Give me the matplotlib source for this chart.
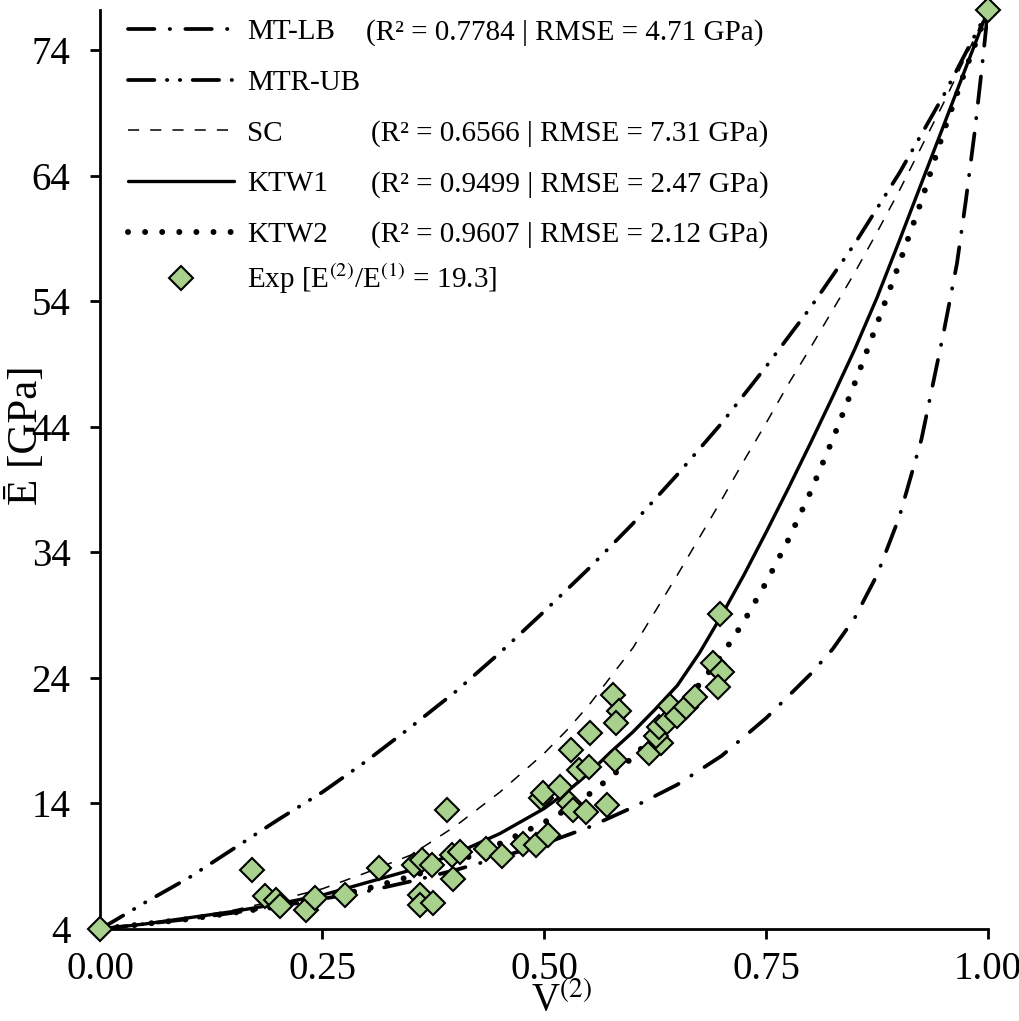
import matplotlib
matplotlib.use('Agg')
import matplotlib.pyplot as plt
import matplotlib.transforms as mtransforms
from matplotlib.ticker import FormatStrFormatter

# 数据：曲线读数 (V(2), E)
ub_v = [0.0, 0.05, 0.10, 0.15, 0.20, 0.25, 0.30, 0.35, 0.40, 0.45, 0.50,
        0.55, 0.60, 0.65, 0.70, 0.75, 0.80, 0.85, 0.90, 0.95, 1.00]
mtr_ub = [4.0, 6.1, 8.1, 10.4, 12.7, 14.9, 17.4, 20.1, 22.9, 26.0, 29.3,
          32.7, 36.3, 40.2, 44.3, 48.8, 53.5, 58.6, 64.2, 70.4, 77.2]

v_fine = [0.0, 0.05, 0.10, 0.15, 0.20, 0.25, 0.30, 0.35, 0.40, 0.45, 0.50,
          0.525, 0.55, 0.575, 0.60, 0.625, 0.65, 0.675, 0.70, 0.725, 0.75,
          0.775, 0.80, 0.825, 0.85, 0.875, 0.90, 0.925, 0.95, 0.975, 1.00]
sc = [4.0, 4.4, 4.9, 5.5, 6.3, 7.2, 8.5, 9.9, 12.2, 14.9, 18.0,
      19.8, 21.8, 24.1, 26.4, 29.3, 32.2, 35.2, 38.2, 41.3, 44.3,
      47.4, 50.3, 53.3, 56.3, 59.5, 62.8, 66.3, 69.8, 73.5, 77.2]
ktw1 = [4.0, 4.4, 4.9, 5.4, 6.0, 6.7, 7.7, 8.7, 10.0, 11.6, 13.6,
        14.9, 16.4, 18.1, 19.7, 21.5, 23.4, 26.0, 29.0, 32.2, 35.6,
        39.1, 42.7, 46.4, 50.2, 54.3, 58.8, 63.4, 68.0, 72.6, 77.2]
ktw2 = [4.0, 4.4, 4.8, 5.3, 5.8, 6.4, 7.2, 8.2, 9.3, 10.8, 12.5,
        13.5, 14.7, 16.1, 17.7, 19.5, 21.4, 23.5, 25.8, 28.5, 31.6,
        35.0, 38.8, 43.0, 47.5, 52.2, 57.0, 62.0, 67.5, 72.5, 77.2]

lb_v = [0.0, 0.10, 0.20, 0.30, 0.35, 0.40, 0.45, 0.50, 0.55, 0.60, 0.65,
        0.70, 0.75, 0.80, 0.825, 0.85, 0.875, 0.90, 0.925, 0.95, 0.965,
        0.975, 0.985, 0.993, 1.00]
mt_lb = [4.0, 4.8, 5.8, 7.0, 7.8, 8.7, 9.7, 10.8, 12.1, 13.7, 15.5,
         17.8, 20.8, 24.3, 26.3, 28.8, 32.2, 36.8, 43.0, 51.5, 57.0,
         62.0, 67.5, 72.5, 77.2]

# 实验点
exp_v = [0.0, 0.171, 0.185, 0.198, 0.202, 0.232, 0.242, 0.275, 0.314, 0.353,
         0.362, 0.373, 0.360, 0.360, 0.375, 0.390, 0.397, 0.396, 0.405, 0.434,
         0.452, 0.476, 0.491, 0.504, 0.496, 0.499, 0.518, 0.528, 0.532, 0.547,
         0.571, 0.530, 0.539, 0.550, 0.551, 0.580, 0.578, 0.584, 0.581, 0.618,
         0.632, 0.626, 0.629, 0.638, 0.642, 0.650, 0.660, 0.670, 0.690, 0.700,
         0.696, 0.698, 1.0]
exp_e = [4.0, 8.7, 6.6, 6.3, 5.8, 5.5, 6.44, 6.7, 8.83, 9.1,
         9.5, 9.1, 6.7, 5.9, 6.1, 13.5, 8.0, 9.9, 10.15, 10.35,
         9.8, 10.8, 10.7, 11.5, 14.4, 14.8, 15.3, 14.0, 13.5, 13.3,
         13.9, 18.25, 16.65, 16.9, 19.6, 17.45, 22.6, 21.4, 20.4, 18.0,
         18.8, 19.4, 20.1, 20.5, 21.8, 21.0, 21.7, 22.5, 25.2, 24.5,
         23.3, 29.1, 77.2]

names = ['MT-LB', 'MTR-UB', 'SC', 'KTW1', 'KTW2']
stats = ['(R² = 0.7784 | RMSE = 4.71 GPa)', '',
         '(R² = 0.6566 | RMSE = 7.31 GPa)',
         '(R² = 0.9499 | RMSE = 2.47 GPa)',
         '(R² = 0.9607 | RMSE = 2.12 GPa)']
stat_x = [366, 0, 371, 371, 371]
exp_name = 'Exp [E$^{(2)}$/E$^{(1)}$ = 19.3]'

y_ticks = [4, 14, 24, 34, 44, 54, 64, 74]
x_ticks = [0.0, 0.25, 0.50, 0.75, 1.00]

plt.rcParams['font.family'] = ['Liberation Serif', 'DejaVu Serif']
plt.rcParams['mathtext.fontset'] = 'stix'
plt.rcParams['lines.scale_dashes'] = False

W, H = 1020, 1021
fig = plt.figure(figsize=(W / 100, H / 100), dpi=100)
ax = fig.add_axes([100.5 / W, 1 - 929 / H, 887.5 / W, 919 / H])

l_lb, = ax.plot(lb_v, mt_lb, color='black', lw=2.7, dashes=(19, 11, 0.3, 11),
                dash_capstyle='round', zorder=3)
l_ub, = ax.plot(ub_v, mtr_ub, color='black', lw=2.7,
                dashes=(19, 9, 0.3, 9, 0.3, 9), dash_capstyle='round', zorder=3)
l_sc, = ax.plot(v_fine, sc, color='black', lw=1.1, dashes=(8, 8), zorder=3)
l_k1, = ax.plot(v_fine, ktw1, color='black', lw=2.4, solid_capstyle='round', zorder=3)
l_k2, = ax.plot(v_fine, ktw2, color='black', lw=4.3, dashes=(0.01, 12.3),
                dash_capstyle='round', zorder=3)
sc_exp, = ax.plot(exp_v, exp_e, linestyle='none', marker='D', ms=12,
                  mfc='#a9d18e', mec='black', mew=1.5, zorder=5, clip_on=False)

ax.set_xlim(0, 1)
ax.set_ylim(4, 77.2)
ax.set_xticks(x_ticks)
ax.set_yticks(y_ticks)
ax.xaxis.set_major_formatter(FormatStrFormatter('%.2f'))
for s in ['top', 'right']:
    ax.spines[s].set_visible(False)
for s in ['left', 'bottom']:
    ax.spines[s].set_linewidth(2.0)
ax.tick_params(axis='both', direction='out', length=7.5, width=2.0, labelsize=28)
ax.tick_params(axis='y', pad=14)
ax.tick_params(axis='x', pad=8)

ax.set_xlabel('V$^{(2)}$', fontsize=28, va='bottom', ha='center')
ax.xaxis.set_label_coords(0.52, -0.0985)
ax.set_ylabel('Ē [GPa]', fontsize=31, va='center', ha='center')
ax.yaxis.set_label_coords(-0.083, 0.5375)

legend_kw = dict(bbox_transform=fig.transFigure, frameon=False, fontsize=21,
                 handlelength=3.63, handletextpad=0.45, borderpad=0,
                 borderaxespad=0, numpoints=1)
leg = ax.legend([l_lb, l_ub, l_sc, l_k1, l_k2], names, loc='upper left',
                bbox_to_anchor=(128 / W, 1 - 19 / H), labelspacing=0.83,
                **legend_kw)
ax.add_artist(leg)
leg_exp = ax.legend([sc_exp], [exp_name], loc='center left',
                    bbox_to_anchor=(128 / W, 1 - 279 / H), **legend_kw)

fig.canvas.draw()
for txt, s, xs in zip(leg.get_texts(), stats, stat_x):
    if not s:
        continue
    x0, y0 = txt.get_transform().transform(txt.get_position())
    fig.text(xs, y0, s, fontsize=21, va='baseline', ha='left',
             transform=mtransforms.IdentityTransform())

fig.savefig('out.png', dpi=100)
